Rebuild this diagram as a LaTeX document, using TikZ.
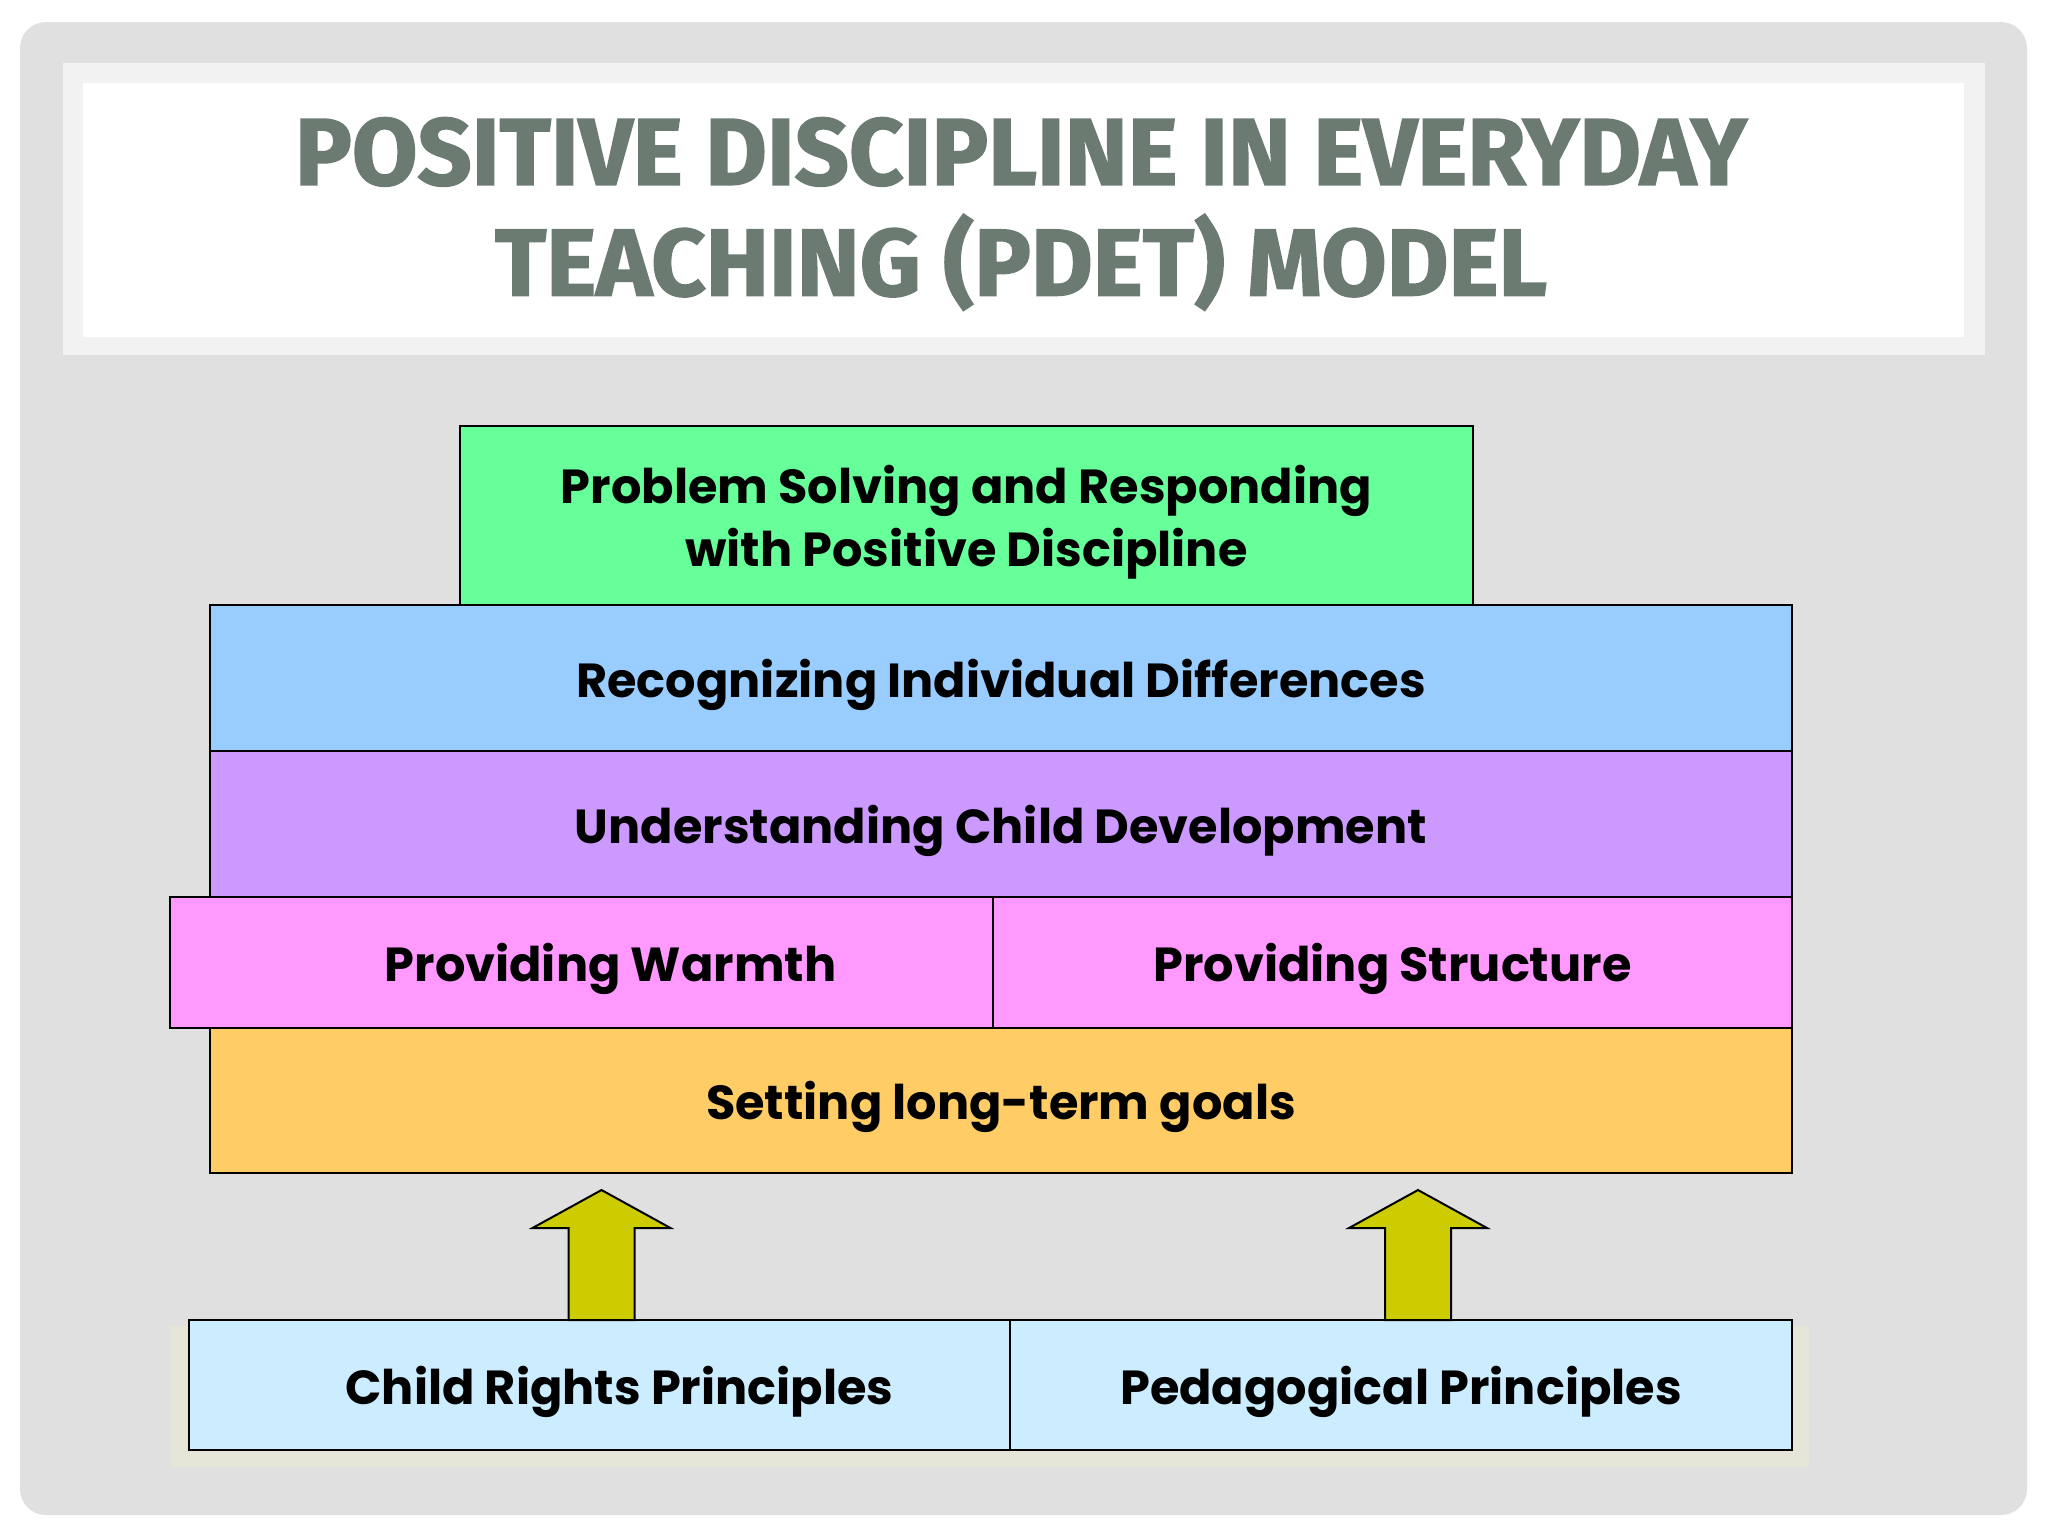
\documentclass[tikz,border=0pt]{standalone}
\usepackage{fontspec}
\setmainfont{Poppins}
\newfontfamily\titlefont{Fira Sans}[FakeStretch=1.0, FakeBold=1.6]
\usetikzlibrary{positioning}

\definecolor{slidegray}{HTML}{E0E0E0}
\definecolor{bandgray}{HTML}{F2F2F2}
\definecolor{titlegray}{HTML}{6B7B72}
\definecolor{solvegreen}{HTML}{66FF99}
\definecolor{diffblue}{HTML}{99CCFF}
\definecolor{devpurple}{HTML}{CC99FF}
\definecolor{warmpink}{HTML}{FF99FF}
\definecolor{goalorange}{HTML}{FFCC66}
\definecolor{liftolive}{HTML}{CCCC00}
\definecolor{baseblue}{HTML}{CCECFF}
\definecolor{basepale}{HTML}{E6E6D8}

\begin{document}
\begin{tikzpicture}[x=0.1mm, y=-0.1mm,
        layer/.style = {draw, line width=0.25mm, inner sep=0pt, outer sep=0pt,
            align=center, text depth=0pt, font=\fontsize{13.6}{18}\selectfont\bfseries},
        liftarrow/.style = {draw, line width=0.2mm, fill=liftolive, line join=miter}]
    \useasboundingbox (0,0) rectangle (2048,1536);
    % slide and title band
    \fill[slidegray, rounded corners=2.6mm] (20,22) rectangle (2027,1515);
    \fill[bandgray] (63,63) rectangle (1985,355);
    \node[fill=white, anchor=north west, inner sep=0pt,
        minimum width=188.1mm, minimum height=25.4mm] (titlebox) at (82,82) {};
    \node[text=titlegray, align=center,
        font=\titlefont\fontsize{27}{31.5}\selectfont\bfseries] (title) at (1021,214)
        {POSITIVE DISCIPLINE IN EVERYDAY\\TEACHING (PDET) MODEL};
    % model layers
    \node[layer, anchor=north west, fill=solvegreen, minimum width=101.3mm,
        minimum height=17.9mm] (solve) at (460,426)
        {Problem Solving and Responding\\with Positive Discipline};
    \node[layer, anchor=north west, fill=diffblue, minimum width=158.2mm,
        minimum height=14.6mm] (diff) at (210,605) {Recognizing Individual Differences};
    \node[layer, fill=devpurple, minimum width=158.2mm, minimum height=14.6mm,
        below=0pt of diff] (dev) {Understanding Child Development};
    \node[layer, anchor=north west, fill=warmpink, minimum width=82.3mm,
        minimum height=13.1mm] (warm) at (170,897) {\hspace*{5.8mm}Providing Warmth};
    \node[layer, fill=warmpink, minimum width=79.9mm, minimum height=13.1mm,
        right=0pt of warm] (struct) {Providing Structure};
    \node[layer, anchor=north west, fill=goalorange, minimum width=158.2mm,
        minimum height=14.5mm] (goals) at (210,1028) {Setting long-term goals};
    % principles at the base
    \fill[basepale] (170,1326) rectangle (1809,1467);
    \node[layer, anchor=north west, fill=baseblue, minimum width=82.1mm,
        minimum height=13mm] (rights) at (189,1320) {\hspace*{4mm}Child Rights Principles};
    \node[layer, fill=baseblue, minimum width=78.2mm, minimum height=13mm,
        right=0pt of rights] (peda) {Pedagogical Principles};
    \coordinate (a1) at ([xshift=0.2mm]rights.north);
    \coordinate (a2) at ([xshift=1.7mm]peda.north);
    \foreach \a in {a1,a2}
        \draw[liftarrow] (\a) ++(-33,0) -- ++(0,-92) -- ++(-36,0) -- ++(69,-38)
            -- ++(69,38) -- ++(-36,0) -- ++(0,92) -- cycle;
\end{tikzpicture}
\end{document}
